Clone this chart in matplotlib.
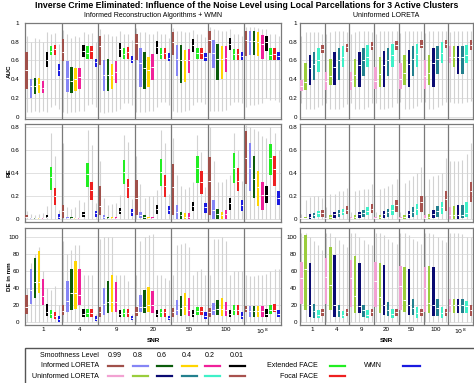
import numpy as np
import matplotlib.pyplot as plt
from matplotlib.lines import Line2D
from matplotlib.patches import Rectangle

plt.rcParams['font.family'] = ['Liberation Sans', 'DejaVu Sans']

snr_labels = ['1', '4', '9', '20', '50', '100', r'$10^8$']
smooth_levels = ['0.99', '0.8', '0.6', '0.4', '0.2', '0.01']

# informed: LORETA x6 smoothness, Extended FACE, Focal FACE, WMN
inf_colors = ['#a0504a', '#8585f5', '#0b5c0b', '#ffd500', '#f0209a', '#000000',
              '#22ee22', '#ee2020', '#1a1ae0']
# uninformed LORETA x6 smoothness
uninf_colors = ['#f2a2d2', '#9acd3c', '#0a0a72', '#23808e', '#3ff0c8', '#a8524e']

# ---------------- AUC ----------------
auc_inf_q1 = [[0.30, 0.20, 0.24, 0.25, 0.25, 0.53, 0.66, 0.66, 0.43],
              [0.59, 0.26, 0.25, 0.27, 0.30, 0.64, 0.62, 0.62, 0.53],
              [0.55, 0.27, 0.27, 0.30, 0.36, 0.64, 0.62, 0.62, 0.57],
              [0.60, 0.32, 0.29, 0.32, 0.39, 0.67, 0.62, 0.62, 0.59],
              [0.66, 0.43, 0.36, 0.37, 0.47, 0.69, 0.62, 0.62, 0.59],
              [0.68, 0.52, 0.39, 0.40, 0.48, 0.71, 0.61, 0.61, 0.61],
              [0.65, 0.66, 0.66, 0.65, 0.62, 0.70, 0.61, 0.61, 0.61]]
auc_inf_med = [[0.50, 0.33, 0.33, 0.35, 0.31, 0.61, 0.70, 0.72, 0.50],
               [0.69, 0.41, 0.38, 0.40, 0.42, 0.70, 0.68, 0.70, 0.58],
               [0.75, 0.45, 0.45, 0.45, 0.48, 0.72, 0.67, 0.69, 0.61],
               [0.79, 0.57, 0.52, 0.50, 0.53, 0.74, 0.67, 0.68, 0.63],
               [0.80, 0.62, 0.60, 0.60, 0.60, 0.77, 0.68, 0.68, 0.64],
               [0.82, 0.68, 0.62, 0.62, 0.63, 0.78, 0.67, 0.67, 0.65],
               [0.82, 0.81, 0.81, 0.80, 0.78, 0.80, 0.66, 0.67, 0.65]]
auc_inf_q3 = [[0.69, 0.40, 0.41, 0.41, 0.38, 0.69, 0.75, 0.77, 0.56],
              [0.83, 0.59, 0.53, 0.52, 0.52, 0.76, 0.75, 0.75, 0.62],
              [0.86, 0.60, 0.62, 0.56, 0.59, 0.79, 0.73, 0.74, 0.65],
              [0.88, 0.73, 0.69, 0.64, 0.67, 0.81, 0.73, 0.73, 0.68],
              [0.90, 0.76, 0.76, 0.71, 0.72, 0.83, 0.73, 0.73, 0.68],
              [0.91, 0.82, 0.78, 0.75, 0.75, 0.84, 0.72, 0.72, 0.69],
              [0.92, 0.92, 0.92, 0.90, 0.87, 0.86, 0.73, 0.73, 0.69]]
auc_inf_lo = [[0.05, 0.05, 0.06, 0.05, 0.06, 0.05, 0.10, 0.12, 0.08],
              [0.05, 0.04, 0.05, 0.05, 0.06, 0.06, 0.12, 0.14, 0.10],
              [0.05, 0.04, 0.05, 0.05, 0.06, 0.08, 0.15, 0.15, 0.12],
              [0.05, 0.05, 0.05, 0.06, 0.06, 0.10, 0.16, 0.16, 0.12],
              [0.06, 0.05, 0.05, 0.06, 0.07, 0.12, 0.16, 0.16, 0.14],
              [0.06, 0.06, 0.06, 0.06, 0.07, 0.12, 0.16, 0.16, 0.15],
              [0.10, 0.12, 0.12, 0.14, 0.15, 0.20, 0.18, 0.18, 0.16]]
auc_inf_hi = [[0.86, 0.80, 0.84, 0.83, 0.80, 0.90, 0.88, 0.89, 0.78],
              [0.93, 0.88, 0.84, 0.86, 0.85, 0.90, 0.88, 0.89, 0.80],
              [0.94, 0.88, 0.88, 0.86, 0.86, 0.92, 0.88, 0.88, 0.82],
              [0.95, 0.90, 0.90, 0.88, 0.88, 0.92, 0.88, 0.88, 0.84],
              [0.95, 0.92, 0.92, 0.90, 0.90, 0.93, 0.88, 0.88, 0.85],
              [0.96, 0.94, 0.93, 0.92, 0.91, 0.94, 0.88, 0.88, 0.86],
              [0.96, 0.96, 0.96, 0.95, 0.94, 0.94, 0.88, 0.88, 0.86]]

auc_uni_q1 = [[0.27, 0.28, 0.34, 0.39, 0.48, 0.68],
              [0.28, 0.34, 0.34, 0.39, 0.53, 0.69],
              [0.28, 0.32, 0.32, 0.43, 0.53, 0.71],
              [0.30, 0.32, 0.32, 0.43, 0.53, 0.71],
              [0.30, 0.34, 0.32, 0.43, 0.53, 0.73],
              [0.29, 0.34, 0.32, 0.46, 0.57, 0.73],
              [0.57, 0.53, 0.46, 0.46, 0.57, 0.71]]
auc_uni_med = [[0.33, 0.37, 0.52, 0.56, 0.60, 0.72],
               [0.38, 0.43, 0.53, 0.60, 0.64, 0.74],
               [0.38, 0.45, 0.55, 0.60, 0.64, 0.75],
               [0.38, 0.46, 0.55, 0.61, 0.66, 0.76],
               [0.40, 0.47, 0.56, 0.62, 0.67, 0.77],
               [0.43, 0.47, 0.57, 0.62, 0.68, 0.78],
               [0.64, 0.64, 0.64, 0.64, 0.66, 0.77]]
auc_uni_q3 = [[0.39, 0.57, 0.66, 0.69, 0.73, 0.76],
              [0.48, 0.62, 0.69, 0.73, 0.75, 0.78],
              [0.48, 0.62, 0.69, 0.73, 0.76, 0.80],
              [0.53, 0.64, 0.70, 0.73, 0.78, 0.81],
              [0.57, 0.66, 0.71, 0.75, 0.78, 0.82],
              [0.60, 0.66, 0.73, 0.75, 0.80, 0.82],
              [0.75, 0.75, 0.75, 0.75, 0.76, 0.82]]
auc_uni_lo = [[0.15, 0.08, 0.08, 0.08, 0.10, 0.12],
              [0.15, 0.08, 0.08, 0.08, 0.10, 0.14],
              [0.15, 0.08, 0.08, 0.08, 0.10, 0.15],
              [0.15, 0.08, 0.08, 0.09, 0.10, 0.15],
              [0.16, 0.08, 0.08, 0.09, 0.11, 0.16],
              [0.16, 0.08, 0.08, 0.10, 0.12, 0.16],
              [0.16, 0.15, 0.15, 0.15, 0.16, 0.17]]
auc_uni_hi = [[0.86, 0.90, 0.90, 0.90, 0.90, 0.88],
              [0.88, 0.90, 0.91, 0.91, 0.91, 0.90],
              [0.88, 0.90, 0.91, 0.91, 0.91, 0.90],
              [0.88, 0.91, 0.91, 0.92, 0.92, 0.91],
              [0.89, 0.91, 0.92, 0.92, 0.92, 0.91],
              [0.89, 0.91, 0.92, 0.92, 0.92, 0.92],
              [0.90, 0.92, 0.92, 0.92, 0.92, 0.92]]

# ---------------- RE ----------------
re_inf_q1 = [[0.005, 0.0, 0.0, 0.0, 0.0, 0.01, 0.25, 0.12, 0.0],
             [0.01, 0.0, 0.0, 0.0, 0.0, 0.015, 0.28, 0.165, 0.02],
             [0.03, 0.0, 0.0, 0.0, 0.0, 0.045, 0.30, 0.18, 0.025],
             [0.035, 0.005, 0.0, 0.0, 0.0, 0.04, 0.29, 0.19, 0.04],
             [0.035, 0.0, 0.0, 0.0, 0.0, 0.065, 0.31, 0.22, 0.055],
             [0.035, 0.0, 0.0, 0.0, 0.0, 0.08, 0.31, 0.24, 0.07],
             [0.30, 0.24, 0.18, 0.11, 0.08, 0.14, 0.38, 0.29, 0.12]]
re_inf_med = [[0.02, 0.005, 0.005, 0.005, 0.005, 0.02, 0.36, 0.20, 0.02],
              [0.07, 0.01, 0.005, 0.005, 0.005, 0.04, 0.39, 0.25, 0.05],
              [0.11, 0.015, 0.01, 0.005, 0.005, 0.07, 0.41, 0.28, 0.06],
              [0.18, 0.03, 0.015, 0.01, 0.01, 0.09, 0.41, 0.29, 0.08],
              [0.28, 0.06, 0.03, 0.02, 0.02, 0.11, 0.44, 0.32, 0.10],
              [0.33, 0.08, 0.04, 0.03, 0.04, 0.14, 0.44, 0.33, 0.12],
              [0.53, 0.44, 0.35, 0.28, 0.21, 0.21, 0.53, 0.43, 0.18]]
re_inf_q3 = [[0.035, 0.01, 0.01, 0.01, 0.01, 0.03, 0.45, 0.27, 0.04],
             [0.12, 0.02, 0.015, 0.01, 0.01, 0.06, 0.49, 0.32, 0.07],
             [0.29, 0.03, 0.02, 0.015, 0.015, 0.095, 0.51, 0.35, 0.09],
             [0.34, 0.06, 0.03, 0.02, 0.02, 0.12, 0.52, 0.38, 0.11],
             [0.48, 0.12, 0.06, 0.05, 0.05, 0.15, 0.55, 0.42, 0.14],
             [0.54, 0.16, 0.09, 0.06, 0.08, 0.18, 0.57, 0.44, 0.165],
             [0.76, 0.66, 0.55, 0.42, 0.32, 0.29, 0.65, 0.55, 0.24]]
re_inf_lo = [[0.0] * 9 for _ in range(7)]
re_inf_hi = [[0.07, 0.04, 0.03, 0.04, 0.05, 0.11, 0.75, 0.55, 0.08],
             [0.66, 0.10, 0.09, 0.10, 0.16, 0.15, 0.77, 0.64, 0.14],
             [0.50, 0.18, 0.12, 0.13, 0.14, 0.21, 0.73, 0.67, 0.17],
             [0.55, 0.30, 0.18, 0.20, 0.20, 0.25, 0.77, 0.66, 0.22],
             [0.70, 0.38, 0.29, 0.26, 0.28, 0.32, 0.73, 0.58, 0.28],
             [0.80, 0.50, 0.32, 0.32, 0.35, 0.38, 0.75, 0.60, 0.33],
             [0.82, 0.80, 0.78, 0.76, 0.72, 0.70, 0.80, 0.75, 0.60]]

re_uni_q1 = [[0.0, 0.005, 0.0, 0.01, 0.02, 0.02],
             [0.0, 0.0, 0.01, 0.02, 0.03, 0.04],
             [0.0, 0.0, 0.01, 0.02, 0.03, 0.05],
             [0.0, 0.0, 0.01, 0.02, 0.03, 0.06],
             [0.0, 0.0, 0.01, 0.02, 0.03, 0.06],
             [0.0, 0.0, 0.01, 0.02, 0.04, 0.07],
             [0.0, 0.0, 0.0, 0.01, 0.02, 0.15]]
re_uni_med = [[0.005, 0.01, 0.02, 0.03, 0.05, 0.05],
              [0.005, 0.015, 0.04, 0.05, 0.06, 0.08],
              [0.005, 0.015, 0.04, 0.05, 0.07, 0.09],
              [0.005, 0.015, 0.04, 0.06, 0.08, 0.12],
              [0.005, 0.015, 0.04, 0.06, 0.09, 0.15],
              [0.01, 0.02, 0.04, 0.07, 0.10, 0.17],
              [0.03, 0.03, 0.03, 0.03, 0.05, 0.24]]
re_uni_q3 = [[0.01, 0.02, 0.04, 0.05, 0.07, 0.08],
             [0.01, 0.03, 0.06, 0.08, 0.09, 0.11],
             [0.02, 0.03, 0.06, 0.08, 0.10, 0.13],
             [0.02, 0.03, 0.07, 0.09, 0.12, 0.16],
             [0.02, 0.03, 0.07, 0.10, 0.13, 0.20],
             [0.03, 0.04, 0.08, 0.11, 0.15, 0.24],
             [0.10, 0.11, 0.12, 0.12, 0.15, 0.32]]
re_uni_lo = [[0.0] * 6 for _ in range(7)]
re_uni_hi = [[0.04, 0.16, 0.19, 0.20, 0.20, 0.18],
             [0.10, 0.22, 0.22, 0.24, 0.24, 0.27],
             [0.06, 0.24, 0.25, 0.26, 0.26, 0.30],
             [0.06, 0.26, 0.27, 0.29, 0.30, 0.35],
             [0.06, 0.31, 0.34, 0.37, 0.40, 0.45],
             [0.20, 0.35, 0.37, 0.38, 0.40, 0.53],
             [0.50, 0.50, 0.50, 0.51, 0.56, 0.66]]

# ---------------- DE ----------------
de_inf_q1 = [[10, 21, 28, 34, 20, 8, 5, 4, 1],
             [8.5, 12, 14, 16, 20, 6.5, 6.5, 6.5, 2],
             [6.5, 8.5, 10.5, 12, 12, 6.5, 6.5, 6.5, 3],
             [7.5, 12, 10.5, 12, 10.5, 6.5, 6.5, 6.5, 3],
             [6.5, 8.5, 7.7, 8.5, 7.7, 6.5, 8.5, 8.5, 4],
             [6.5, 8.5, 8.5, 7.7, 7.7, 6.5, 9, 9, 4],
             [12, 6.5, 6.5, 6.5, 6.5, 6.5, 10, 12, 6.5]]
de_inf_med = [[18, 38, 47, 47, 31, 12, 10, 8, 4],
              [13, 25, 34, 34, 32, 10, 11, 11, 4.5],
              [12, 21, 24, 24, 24, 10, 11, 11, 5],
              [12, 18, 18, 20, 20, 10, 12, 12, 5],
              [12, 15, 17, 19, 15, 10, 13, 13, 8],
              [12, 14, 16, 16, 14, 10, 14, 14, 8],
              [16, 13, 13, 13, 13, 10, 15, 15, 10]]
de_inf_q3 = [[32, 63, 75, 84, 51, 21, 14, 12, 7],
             [20, 49, 62, 72, 63, 16, 16, 16, 7],
             [18, 40, 48, 55, 47, 14, 16, 16, 7],
             [18, 32, 38, 42, 37, 14, 16, 16, 8],
             [17, 26, 31, 34, 29, 14, 18, 18, 12],
             [17, 23, 26, 28, 24, 14, 20, 20, 12],
             [19, 19, 19, 19, 19, 16, 20, 21, 15]]
de_inf_lo = [[1] * 9 for _ in range(7)]
de_inf_hi = [[40, 70, 80, 88, 60, 40, 38, 43, 20],
             [95, 80, 85, 90, 90, 55, 55, 55, 10],
             [98, 100, 100, 100, 55, 55, 55, 48, 10],
             [55, 95, 100, 102, 103, 55, 55, 52, 50],
             [55, 90, 92, 93, 88, 55, 60, 62, 55],
             [55, 97, 98, 100, 95, 55, 60, 60, 60],
             [55, 54, 54, 55, 55, 57, 60, 62, 62]]

de_uni_q1 = [[22, 14, 6.5, 5, 5, 8],
             [22, 14, 6.5, 6.5, 5, 8],
             [18, 10.5, 10.5, 6.5, 5, 8],
             [18, 10.5, 8.5, 7.7, 5.5, 8],
             [14, 12, 9, 8.5, 5.5, 8],
             [12, 10.5, 7.7, 7.7, 5.5, 8],
             [12, 10.5, 10.5, 10.5, 10.5, 8]]
de_uni_med = [[52, 63, 20, 13, 9, 12],
              [53, 44, 20, 14, 9, 12],
              [52, 31, 19, 14, 9, 12],
              [48, 30, 20, 15, 10, 12],
              [43, 26, 20, 17, 11, 12],
              [40, 23, 20, 17, 11, 12],
              [20, 20, 20, 20, 19, 14]]
de_uni_q3 = [[71, 102, 69, 21, 14, 16],
             [75, 88, 79, 20, 13, 16],
             [73, 78, 70, 20, 14, 16],
             [71, 69, 67, 24, 16, 16],
             [66, 65, 63, 27, 18, 16],
             [65, 66, 65, 27, 18, 16],
             [27, 27, 27, 27, 25, 20]]
de_uni_lo = [[1] * 6 for _ in range(7)]
de_uni_hi = [[104, 104, 100, 95, 90, 85],
             [104, 104, 100, 96, 92, 88],
             [104, 104, 100, 96, 92, 90],
             [104, 104, 102, 98, 94, 92],
             [104, 104, 102, 98, 95, 92],
             [105, 105, 103, 100, 96, 94],
             [105, 105, 104, 103, 100, 100]]


def draw_boxes(ax, q1, med, q3, lo, hi, colors, offset, step, width):
    q1, med, q3 = np.array(q1), np.array(med), np.array(q3)
    lo, hi = np.array(lo), np.array(hi)
    ngroup, nser = q1.shape
    for s in range(nser):
        x = np.arange(ngroup) + offset + s * step
        ax.vlines(x, lo[:, s], hi[:, s], color='#d2d2d2', lw=0.8, zorder=1)
        ax.bar(x, q3[:, s] - q1[:, s], bottom=q1[:, s], width=width,
               color=colors[s], linewidth=0, zorder=3)
        ax.hlines(med[:, s], x - width / 2, x + width / 2, color='white',
                  lw=0.7, zorder=4)


def style_axes(ax, ylim, yticks, ytl, bottom, pad):
    ax.set_xlim(0, 7)
    ax.set_ylim(*ylim)
    ax.set_yticks(yticks)
    ax.set_yticklabels(ytl)
    for y in yticks:
        ax.axhline(y, color='#dcdcdc', lw=0.6, zorder=0)
    for g in range(1, 7):
        ax.axvline(g, color='#7a7a7a', lw=0.9, zorder=2)
    ax.set_xticks(np.arange(7) + 0.5)
    if bottom:
        ax.set_xticklabels(snr_labels)
    else:
        ax.set_xticklabels([])
    ax.tick_params(length=0, labelsize=4.5, pad=pad)
    ax.tick_params(axis='x', pad=1.5)
    for sp in ax.spines.values():
        sp.set_color('#7a7a7a')
        sp.set_linewidth(0.9)


fig = plt.figure(figsize=(4.74, 3.83), dpi=100)

rows = [(0.6906, 0.2493), (0.4211, 0.2551), (0.1514, 0.2525)]
left_x, left_w = 25 / 474, 256 / 474
right_x, right_w = 300 / 474, 173 / 474

metrics = [
    (auc_inf_q1, auc_inf_med, auc_inf_q3, auc_inf_lo, auc_inf_hi,
     auc_uni_q1, auc_uni_med, auc_uni_q3, auc_uni_lo, auc_uni_hi,
     (-0.02, 1.0), [0, 0.2, 0.4, 0.6, 0.8, 1.0], ['0', '0.2', '0.4', '0.6', '0.8', '1'], 'AUC'),
    (re_inf_q1, re_inf_med, re_inf_q3, re_inf_lo, re_inf_hi,
     re_uni_q1, re_uni_med, re_uni_q3, re_uni_lo, re_uni_hi,
     (-0.025, 0.825), [0, 0.2, 0.4, 0.6, 0.8], ['0', '0.2', '0.4', '0.6', '0.8'], 'RE'),
    (de_inf_q1, de_inf_med, de_inf_q3, de_inf_lo, de_inf_hi,
     de_uni_q1, de_uni_med, de_uni_q3, de_uni_lo, de_uni_hi,
     (-3, 110), [0, 20, 40, 60, 80, 100], ['0', '20', '40', '60', '80', '100'], 'DE in mm'),
]

for i, m in enumerate(metrics):
    (iq1, imed, iq3, ilo, ihi, uq1, umed, uq3, ulo, uhi, ylim, yt, ytl, name) = m
    bottom, height = rows[i]
    axl = fig.add_axes([left_x, bottom, left_w, height])
    draw_boxes(axl, iq1, imed, iq3, ilo, ihi, inf_colors, 0.046, 0.111, 0.065)
    style_axes(axl, ylim, yt, ytl, i == 2, 4)
    axr = fig.add_axes([right_x, bottom, right_w, height])
    draw_boxes(axr, uq1, umed, uq3, ulo, uhi, uninf_colors, 0.06, 0.17, 0.1)
    style_axes(axr, ylim, yt, ytl, i == 2, 2)
    fig.text(0.019, bottom + height / 2, name, rotation=90, ha='center',
             va='center', fontsize=4.5, fontweight='bold')
    if i == 2:
        fig.text(left_x + left_w / 2, 1 - 340.7 / 383, 'SNR', ha='center',
                 va='center', fontsize=4.6, fontweight='bold')
        fig.text(right_x + right_w / 2, 1 - 340.7 / 383, 'SNR', ha='center',
                 va='center', fontsize=4.6, fontweight='bold')

fig.text(0.52, 1 - 5 / 383, 'Inverse Crime Eliminated: Influence of the Noise Level '
         'using Local Parcellations for 3 Active Clusters', ha='center', va='center',
         fontsize=6.3, fontweight='bold')
fig.text(left_x + left_w / 2, 1 - 15.7 / 383, 'Informed Reconstruction Algorithms + WMN',
         ha='center', va='center', fontsize=5.0)
fig.text(right_x + right_w / 2, 1 - 15.7 / 383, 'Uninformed LORETA',
         ha='center', va='center', fontsize=5.0)

# legend box
fig.add_artist(Rectangle((25 / 474, -0.01), 1 - 25 / 474 + 0.01, 0.0914 + 0.01,
                         transform=fig.transFigure, fill=False,
                         edgecolor='#555555', lw=1.0))


def fx(px):
    return px / 474


def fy(py):
    return 1 - py / 383


ry = [355.7, 365.7, 376.0]
lfs = 5.1
fig.text(fx(99), fy(ry[0]), 'Smoothness Level', ha='right', va='center', fontsize=lfs)
fig.text(fx(99), fy(ry[1]), 'Informed LORETA', ha='right', va='center', fontsize=lfs)
fig.text(fx(99), fy(ry[2]), 'Uninformed LORETA', ha='right', va='center', fontsize=lfs)
line_x = [108, 133, 157, 182, 205, 230]
for k in range(6):
    fig.text(fx(line_x[k]), fy(ry[0]), smooth_levels[k], ha='left', va='center', fontsize=lfs)
    fig.add_artist(Line2D([fx(line_x[k]), fx(line_x[k] + 15)], [fy(ry[1])] * 2,
                          color=inf_colors[k], lw=1.6, transform=fig.transFigure))
    fig.add_artist(Line2D([fx(line_x[k]), fx(line_x[k] + 15)], [fy(ry[2])] * 2,
                          color=uninf_colors[k], lw=1.6, transform=fig.transFigure))

fig.text(fx(318), fy(ry[1]), 'Extended FACE', ha='right', va='center', fontsize=lfs)
fig.text(fx(318), fy(ry[2]), 'Focal FACE', ha='right', va='center', fontsize=lfs)
fig.add_artist(Line2D([fx(330), fx(345)], [fy(ry[1])] * 2, color=inf_colors[6],
                      lw=1.6, transform=fig.transFigure))
fig.add_artist(Line2D([fx(330), fx(345)], [fy(ry[2])] * 2, color=inf_colors[7],
                      lw=1.6, transform=fig.transFigure))
fig.text(fx(382), fy(ry[1]), 'WMN', ha='right', va='center', fontsize=lfs)
fig.add_artist(Line2D([fx(403), fx(420)], [fy(ry[1])] * 2, color=inf_colors[8],
                      lw=1.6, transform=fig.transFigure))

fig.savefig('out.png', dpi=100)
